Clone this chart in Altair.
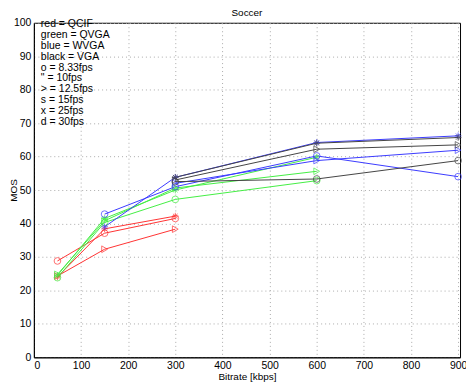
import altair as alt
import pandas as pd

# ---- data ----
groups = ["QCIF", "QVGA", "WVGA", "VGA"]
group_colors = ["#ff3333", "#44ee44", "#3a3aff", "#444444"]
markers = ["o", "*", ">"]

bitrate_qcif = [50, 150, 300]
bitrate_qvga = [50, 150, 300, 600]
bitrate_wvga = [150, 300, 600, 900]
bitrate_wvga_tri = [300, 600, 900]
bitrate_vga = [300, 600, 900]

qcif_o = [28.8, 37.1, 41.5]
qcif_star = [24.0, 38.4, 42.2]
qcif_tri = [24.3, 32.3, 38.3]

qvga_o = [23.8, 40.3, 47.2, 52.8]
qvga_star = [24.5, 41.5, 50.0, 59.8]
qvga_tri = [24.8, 40.8, 50.6, 55.6]

wvga_o = [42.8, 51.0, 60.2, 54.0]
wvga_star = [39.0, 53.8, 64.2, 66.2]
wvga_tri = [52.0, 58.8, 61.9]

vga_o = [52.5, 53.3, 58.8]
vga_star = [53.8, 64.0, 65.7]
vga_tri = [53.0, 62.2, 63.5]

x_ticks = [0, 100, 200, 300, 400, 500, 600, 700, 800, 900]
y_ticks = [0, 10, 20, 30, 40, 50, 60, 70, 80, 90, 100]

legend_lines = ["red = QCIF", "green = QVGA", "blue = WVGA", "black = VGA",
                "o = 8.33fps", "\" = 10fps", "> = 12.5fps", "s = 15fps",
                "x = 25fps", "d = 30fps"]

series = [
    ("QCIF", "o", bitrate_qcif, qcif_o),
    ("QCIF", "*", bitrate_qcif, qcif_star),
    ("QCIF", ">", bitrate_qcif, qcif_tri),
    ("QVGA", "o", bitrate_qvga, qvga_o),
    ("QVGA", "*", bitrate_qvga, qvga_star),
    ("QVGA", ">", bitrate_qvga, qvga_tri),
    ("WVGA", "o", bitrate_wvga, wvga_o),
    ("WVGA", "*", bitrate_wvga, wvga_star),
    ("WVGA", ">", bitrate_wvga_tri, wvga_tri),
    ("VGA", "o", bitrate_vga, vga_o),
    ("VGA", "*", bitrate_vga, vga_star),
    ("VGA", ">", bitrate_vga, vga_tri),
]

rows = []
for g, m, rates, vals in series:
    for b, v in zip(rates, vals):
        rows.append({"group": g, "marker": m, "series": g + m, "bitrate": b, "mos": v})
df = pd.DataFrame(rows)

asterisk = "M-1,0L1,0M0,-1L0,1M-0.7,-0.7L0.7,0.7M-0.7,0.7L0.7,-0.7"

x_enc = alt.X("bitrate:Q", title="Bitrate [kbps]",
              scale=alt.Scale(domain=[0, 904], nice=False),
              axis=alt.Axis(values=x_ticks, labelPadding=3,
                            titlePadding=1, tickSize=0, labelOverlap=False))
y_enc = alt.Y("mos:Q", title="MOS",
              scale=alt.Scale(domain=[0, 100], nice=False),
              axis=alt.Axis(values=y_ticks, labelPadding=3,
                            tickSize=0, labelOverlap=False,
                            titleX=-15, titleY=168))
color_enc = alt.Color("group:N", scale=alt.Scale(domain=groups, range=group_colors), legend=None)

base = alt.Chart(df)
lines = base.mark_line(strokeWidth=1).encode(x=x_enc, y=y_enc, color=color_enc, detail="series:N")
points = base.mark_point(filled=False, size=45, strokeWidth=1).encode(
    x=x_enc, y=y_enc, color=color_enc,
    shape=alt.Shape("marker:N", scale=alt.Scale(domain=markers,
                    range=["circle", asterisk, "triangle-right"]), legend=None))

legend_text = alt.Chart(pd.DataFrame({"a": [0]})).mark_text(
    align="left", baseline="top", fontSize=10.5, lineHeight=11,
    font="Liberation Sans", color="black").encode(
    x=alt.value(7), y=alt.value(-4), text=alt.value(legend_lines))

chart = alt.layer(lines, points, legend_text).properties(
    width=428, height=336,
    title=alt.TitleParams("Soccer", fontSize=10, fontWeight="normal",
                          font="Liberation Sans", offset=0),
    autosize=alt.AutoSizeParams(type="none"),
    padding={"left": 26, "top": 14, "right": 6, "bottom": 28},
).configure_view(stroke="black", strokeWidth=1).configure_axis(
    grid=True, gridDash=[1, 3], gridColor="#aaaaaa", gridOpacity=1,
    domainColor="black", labelFont="Liberation Sans", titleFont="Liberation Sans",
    labelFontSize=10.5, titleFontSize=10, labelColor="black", titleColor="black",
    titleFontWeight="normal", labelOverlap=False,
)

chart.save("out.html", embed_options={"renderer": "svg", "actions": False})
